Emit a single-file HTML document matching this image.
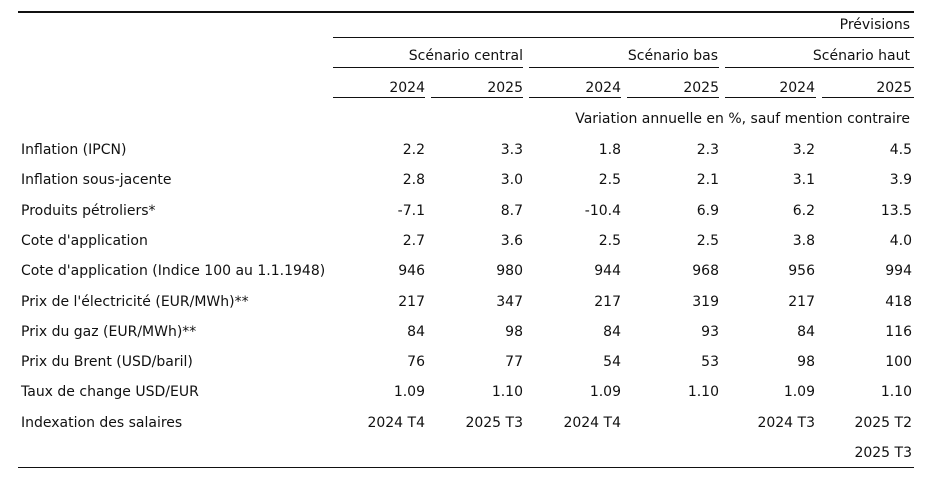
<!DOCTYPE html>
<html><head><meta charset="utf-8"><style>
body{margin:0;width:928px;height:480px;background:#fff;position:relative;font-family:"DejaVu Sans",sans-serif;font-size:14px;color:#111;overflow:hidden}
.l{position:absolute;background:#111;height:1px}
.t{position:absolute;white-space:nowrap;line-height:18px}
.r{text-align:right}
</style></head><body>
<div class="l" style="left:18px;top:11px;width:896px;height:2px"></div>
<div class="t r" style="right:18px;top:16px">Prévisions</div>
<div class="l" style="left:333px;top:37px;width:581px"></div>
<div class="t r" style="right:405px;top:47px">Scénario central</div>
<div class="t r" style="right:210px;top:47px">Scénario bas</div>
<div class="t r" style="right:18px;top:47px">Scénario haut</div>
<div class="l" style="left:333px;top:67px;width:190px"></div>
<div class="l" style="left:529px;top:67px;width:190px"></div>
<div class="l" style="left:725px;top:67px;width:189px"></div>
<div class="l" style="left:333px;top:97px;width:92px"></div>
<div class="l" style="left:431px;top:97px;width:92px"></div>
<div class="l" style="left:529px;top:97px;width:92px"></div>
<div class="l" style="left:627px;top:97px;width:92px"></div>
<div class="l" style="left:725px;top:97px;width:91px"></div>
<div class="l" style="left:822px;top:97px;width:92px"></div>
<div id="rows"></div>
<div class="t r" style="right:18px;top:110px">Variation annuelle en %, sauf mention contraire</div>
<div class="l" style="left:18px;top:467px;width:896px"></div>
<script>
var R=[425,523,621,719,815,912];
var hdr=["2024","2025","2024","2025","2024","2025"];
var rows=[
["Inflation (IPCN)","2.2","3.3","1.8","2.3","3.2","4.5"],
["Inflation sous-jacente","2.8","3.0","2.5","2.1","3.1","3.9"],
["Produits pétroliers*","-7.1","8.7","-10.4","6.9","6.2","13.5"],
["Cote d'application","2.7","3.6","2.5","2.5","3.8","4.0"],
["Cote d'application (Indice 100 au 1.1.1948)","946","980","944","968","956","994"],
["Prix de l'électricité (EUR/MWh)**","217","347","217","319","217","418"],
["Prix du gaz (EUR/MWh)**","84","98","84","93","84","116"],
["Prix du Brent (USD/baril)","76","77","54","53","98","100"],
["Taux de change USD/EUR","1.09","1.10","1.09","1.10","1.09","1.10"],
["Indexation des salaires","2024 T4","2025 T3","2024 T4","","2024 T3","2025 T2"],
["","","","","","","2025 T3"]];
var h="";
hdr.forEach(function(s,i){h+='<div class="t r" style="right:'+(928-R[i])+'px;top:79px">'+s+'</div>';});
rows.forEach(function(r,j){var y=141+j*30.3;
h+='<div class="t" style="left:21px;top:'+y+'px">'+r[0]+'</div>';
for(var i=1;i<7;i++)h+='<div class="t r" style="right:'+(928-R[i-1])+'px;top:'+y+'px">'+r[i]+'</div>';});
document.getElementById("rows").innerHTML=h;
</script>
</body></html>
